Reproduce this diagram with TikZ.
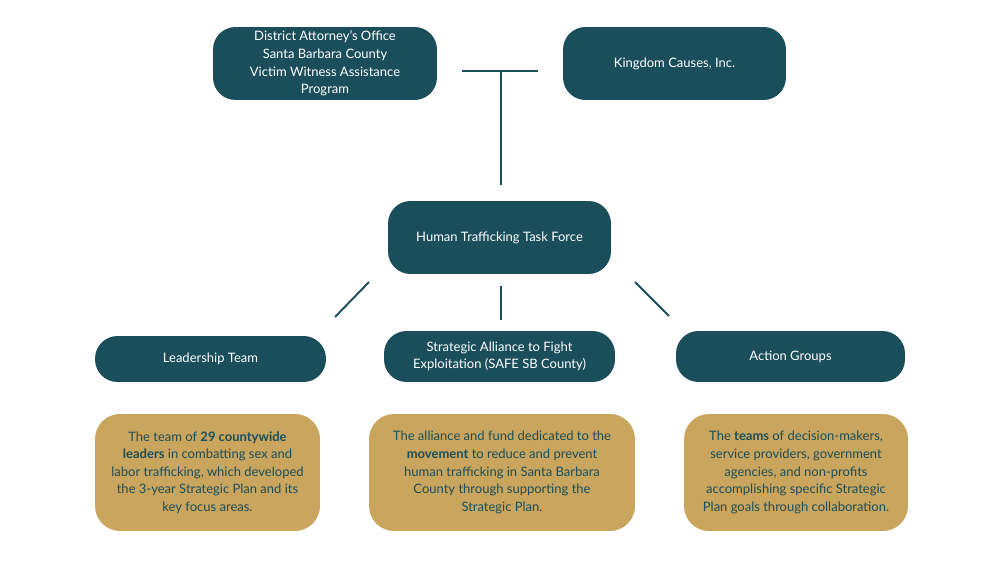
\documentclass[tikz,border=0pt]{standalone}
\usepackage{fontspec}
\setmainfont{Lato}
\definecolor{teal}{HTML}{1A4E5A}
\definecolor{gold}{HTML}{C9A55E}
\begin{document}
\begin{tikzpicture}[x=0.02cm,y=-0.02cm,
  tb/.style={fill=teal,rounded corners=0.45cm,text=white,align=center,font=\fontsize{7.4}{10}\selectfont,inner sep=0pt},
  gb/.style={fill=gold,rounded corners=0.5cm,text=teal,align=center,font=\fontsize{7.4}{10}\selectfont,inner sep=0pt},
  ln/.style={draw=teal,line width=1.1pt}]
\useasboundingbox (0,0) rectangle (1000,563);
\node[tb,minimum width=4.48cm,minimum height=1.46cm] (da) at (325,63.5) {District Attorney’s Office\\Santa Barbara County\\Victim Witness Assistance\\Program};
\node[tb,minimum width=4.46cm,minimum height=1.46cm] (kc) at (674.5,63.5) {Kingdom Causes, Inc.};
\node[tb,minimum width=4.46cm,minimum height=1.46cm] (ht) at (499.5,237.5) {Human Trafficking Task Force};
\node[tb,minimum width=4.62cm,minimum height=0.92cm] (lt) at (210.5,359) {Leadership Team};
\node[tb,minimum width=4.62cm,minimum height=1.02cm] (sa) at (499.5,356.5) {Strategic Alliance to Fight\\Exploitation (SAFE SB County)};
\node[tb,minimum width=4.58cm,minimum height=1.02cm] (ag) at (790.5,356.5) {Action Groups};
\node[gb,minimum width=4.5cm,minimum height=2.34cm] (g1) at (207.5,472.5) {The team of \textbf{29 countywide}\\\textbf{leaders} in combatting sex and\\labor trafficking, which developed\\the 3-year Strategic Plan and its\\key focus areas.};
\node[gb,minimum width=5.32cm,minimum height=2.34cm] (g2) at (502,472.5) {The alliance and fund dedicated to the\\\textbf{movement} to reduce and prevent\\human trafficking in Santa Barbara\\County through supporting the\\Strategic Plan.};
\node[gb,minimum width=4.48cm,minimum height=2.34cm] (g3) at (796,472.5) {The \textbf{teams} of decision-makers,\\service providers, government\\agencies, and non-profits\\accomplishing specific Strategic\\Plan goals through collaboration.};
\coordinate (h1) at (462,71); \coordinate (h2) at (538,71);
\coordinate (vt) at (501,71); \coordinate (vb) at (501,185);
\coordinate (a1) at (369,282); \coordinate (a2) at (335,317);
\coordinate (b1) at (501,286); \coordinate (b2) at (501,320);
\coordinate (c1) at (635,282); \coordinate (c2) at (669,316);
\draw[ln] (h1) -- (h2);
\draw[ln] (vt) -- (vb);
\draw[ln] (a1) -- (a2);
\draw[ln] (b1) -- (b2);
\draw[ln] (c1) -- (c2);
\end{tikzpicture}
\end{document}
